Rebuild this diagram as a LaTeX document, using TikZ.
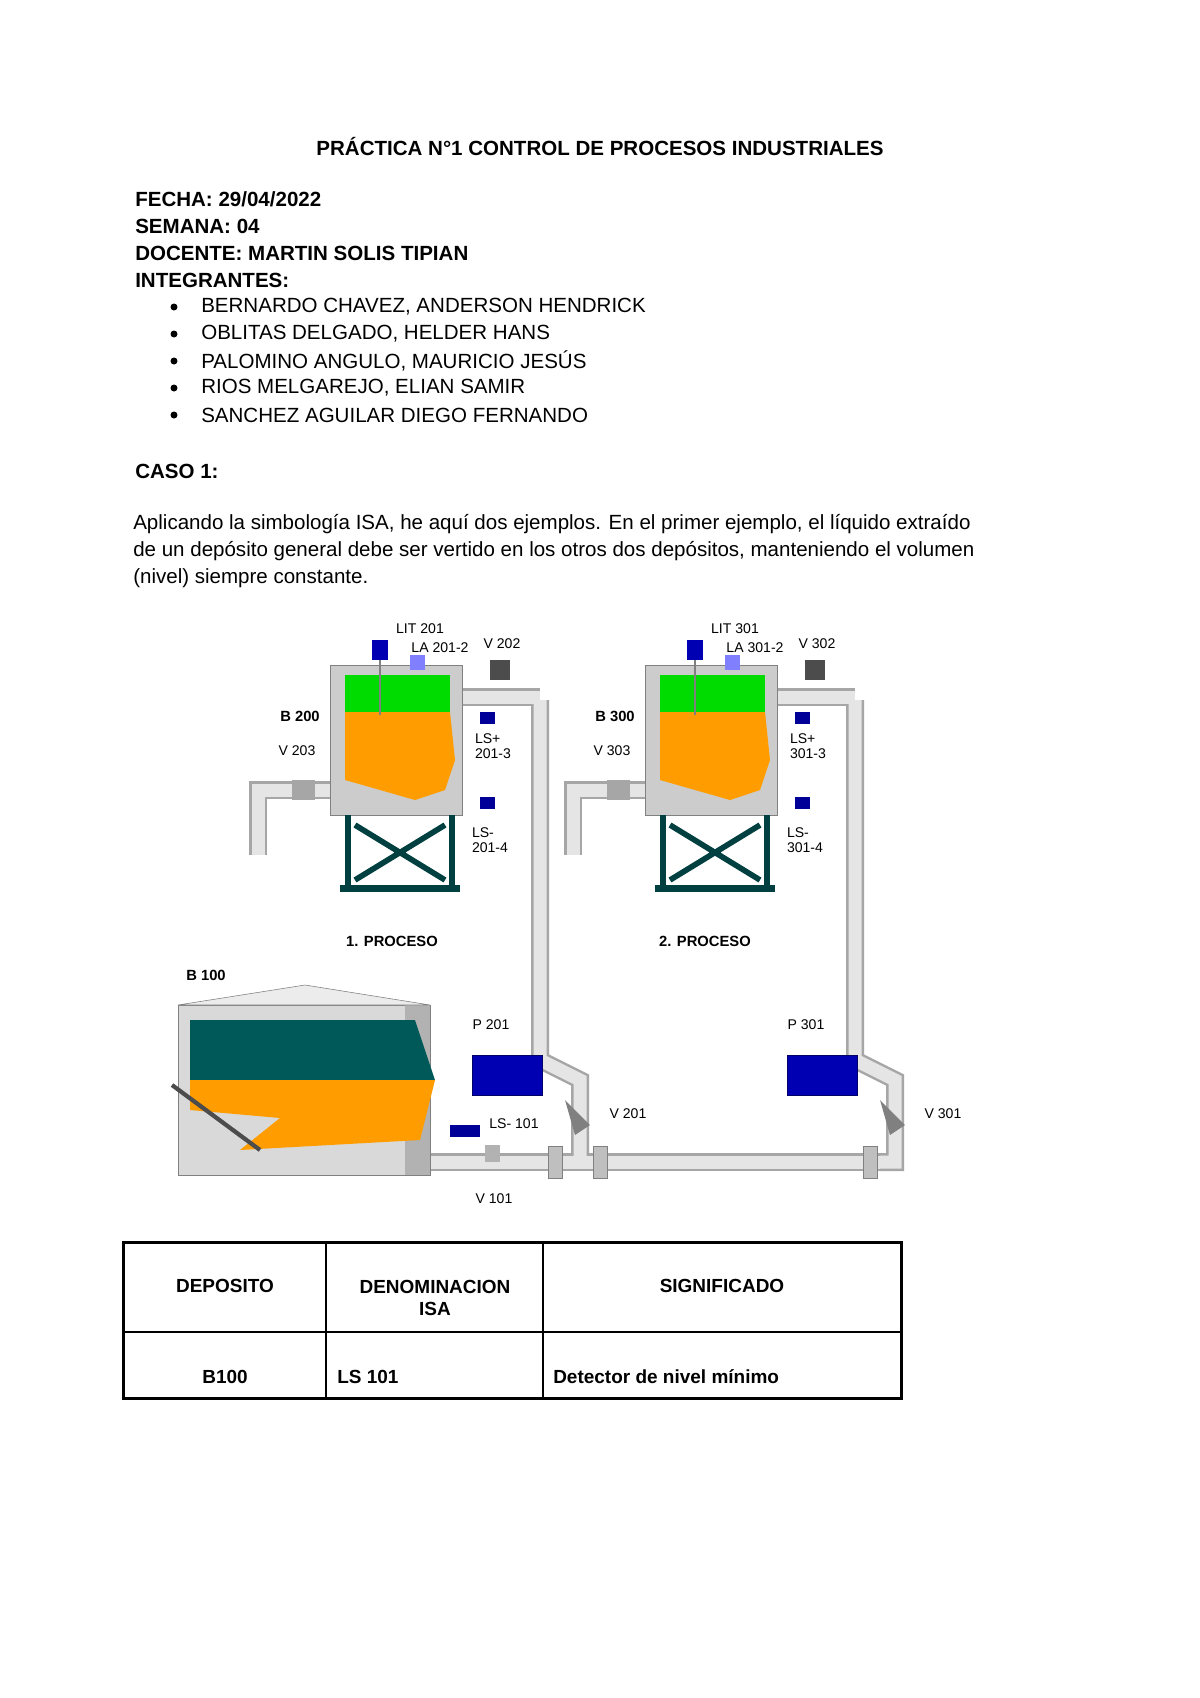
\documentclass[tikz,border=0pt]{standalone}
\usepackage{fontspec}
\setmainfont{Liberation Sans}
\begin{document}
\begin{tikzpicture}[x=0.025cm,y=-0.025cm,
  body/.style={font=\fontsize{14.6}{16}\selectfont,anchor=west,inner sep=0},
  bodyb/.style={body,font=\fontsize{14.6}{16}\selectfont\bfseries},
  lbl/.style={font=\fontsize{10}{11}\selectfont,inner sep=0,align=left},
  lblb/.style={lbl,font=\fontsize{10.5}{12}\selectfont\bfseries},
  pipe/.style={line width=18*0.025cm,draw=gray!70},
  pipein/.style={line width=13*0.025cm,draw=gray!20},
  cell/.style={font=\fontsize{13.5}{16}\selectfont\bfseries,inner sep=0,align=center}]
\useasboundingbox (0,0) rectangle (1200,1698);
\fill[white] (0,0) rectangle (1200,1698);
\node[font=\fontsize{14.6}{16}\selectfont\bfseries,inner sep=0] (title) at (600,146) {PRÁCTICA N°1 CONTROL DE PROCESOS INDUSTRIALES};
\node[bodyb] (f) at (135,199) {FECHA: 29/04/2022};
\node[bodyb] (s) at (135,226) {SEMANA: 04};
\node[bodyb] (d) at (135,253) {DOCENTE: MARTIN SOLIS TIPIAN};
\node[bodyb] (i) at (135,280) {INTEGRANTES:};
\foreach \y/\t in {307/{BERNARDO CHAVEZ, ANDERSON HENDRICK},334/{OBLITAS DELGADO, HELDER HANS},361/{PALOMINO ANGULO, MAURICIO JESÚS},388/{RIOS MELGAREJO, ELIAN SAMIR},415/{SANCHEZ AGUILAR DIEGO FERNANDO}}{
  \fill (174,\y) circle (3.5);
  \node[body] at (201,\y) {\t};}
\node[bodyb] (c) at (135,471) {CASO 1:};
\node[body] (p1) at (133,524) {Aplicando la simbología ISA, he aquí dos ejemplos. En el primer ejemplo, el líquido extraído};
\node[body] (p2) at (133,551) {de un depósito general debe ser vertido en los otros dos depósitos, manteniendo el volumen};
\node[body] (p3) at (133,578) {(nivel) siempre constante.};
% pipes
\foreach \p in {pipe,pipein}{
 \draw[\p] (430,1162) -- (880,1162);
 \draw[\p] (540,700) -- (540,1060) -- (580,1080) -- (580,1162);
 \draw[\p] (855,700) -- (855,1060) -- (895,1080) -- (895,1162) -- (880,1162);
 \draw[\p] (462,697) -- (540,697);
 \draw[\p] (777,697) -- (855,697);
 \draw[\p] (330,790) -- (258,790) -- (258,855);
 \draw[\p] (645,790) -- (573,790) -- (573,855);
}
\foreach \x in {555,600,870}{\fill[gray!50,draw=gray] (\x-7,1146) rectangle (\x+7,1178);}
\foreach \s/\n in {0/2,315/3}{
\begin{scope}[xshift=\s*0.025cm]
 \fill[gray!40,draw=gray] (330,665) rectangle (462,815);
 \fill[green!80!black!70!green] (345,675) rectangle (450,712);
 \fill[orange!70!red!60!yellow] (345,712) -- (450,712) -- (455,760) -- (445,790) -- (415,800) -- (380,790) -- (345,780) -- cycle;
 \draw[line width=4pt,teal!50!black] (348,815) -- (348,885) (452,815) -- (452,885) (355,825) -- (445,880) (445,825) -- (355,880);
 \fill[teal!50!black] (340,885) rectangle (460,892);
 \fill[blue!70!black] (372,640) rectangle (388,660);
 \draw[gray,line width=2pt] (380,660) -- (380,715);
 \fill[blue!50] (410,655) rectangle (425,670);
 \fill[blue!60!black] (480,712) rectangle (495,724);
 \fill[blue!60!black] (480,797) rectangle (495,809);
 \fill[gray!60!black] (490,660) rectangle (510,680);
 \fill[gray!70] (292,780) rectangle (315,800);
 \fill[blue!70!black,draw=blue!40!black] (472,1055) rectangle (542,1095);
 \fill[gray] (565,1100) -- (590,1125) -- (575,1135) -- cycle;
 \node[lbl] at (420,629) {LIT \n01};
 \node[lbl] at (440,648) {LA \n01-2};
 \node[lbl] at (502,644) {V \n02};
 \node[lblb] at (300,716) {B \n00};
 \node[lbl] at (297,751) {V \n03};
 \node[lbl] at (493,746) {LS+\\\n01-3};
 \node[lbl] at (490,840) {LS-\\\n01-4};
 \node[lbl] at (491,1025) {P \n01};
 \node[lbl] at (628,1114) {V \n01};
\end{scope}}
\node[lblb] at (392,941) {1. PROCESO};
\node[lblb] at (705,941) {2. PROCESO};
% B100
\fill[gray!30,draw=gray] (178,1005) rectangle (430,1175);
\fill[gray!60] (405,1005) rectangle (430,1175);
\fill[gray!15,draw=gray] (178,1005) -- (305,985) -- (430,1005) -- cycle;
\fill[teal!70!black] (190,1020) -- (415,1020) -- (435,1080) -- (190,1080) -- cycle;
\fill[orange!70!red!60!yellow] (190,1080) -- (435,1080) -- (420,1140) -- (240,1150) -- (280,1118) -- (190,1110) -- cycle;
\draw[gray!60!black,line width=3pt] (172,1085) -- (260,1150);
\fill[blue!60!black] (450,1125) rectangle (480,1137);
\fill[gray!60] (485,1145) rectangle (500,1162);
\node[lblb] at (206,975) {B 100};
\node[lbl] at (514,1124) {LS- 101};
\node[lbl] at (494,1199) {V 101};
% table
\draw[line width=3*0.025cm] (123,1242) rectangle (901,1398);
\draw[line width=2*0.025cm] (326,1242) -- (326,1398) (543,1242) -- (543,1398) (123,1332) -- (901,1332);
\node[cell] at (225,1286) {DEPOSITO};
\node[cell] at (435,1298) {DENOMINACION\\ISA};
\node[cell] at (722,1286) {SIGNIFICADO};
\node[cell] at (225,1377) {B100};
\node[cell,anchor=west] at (337,1377) {LS 101};
\node[cell,anchor=west] at (553,1377) {Detector de nivel mínimo};
\end{tikzpicture}
\end{document}
